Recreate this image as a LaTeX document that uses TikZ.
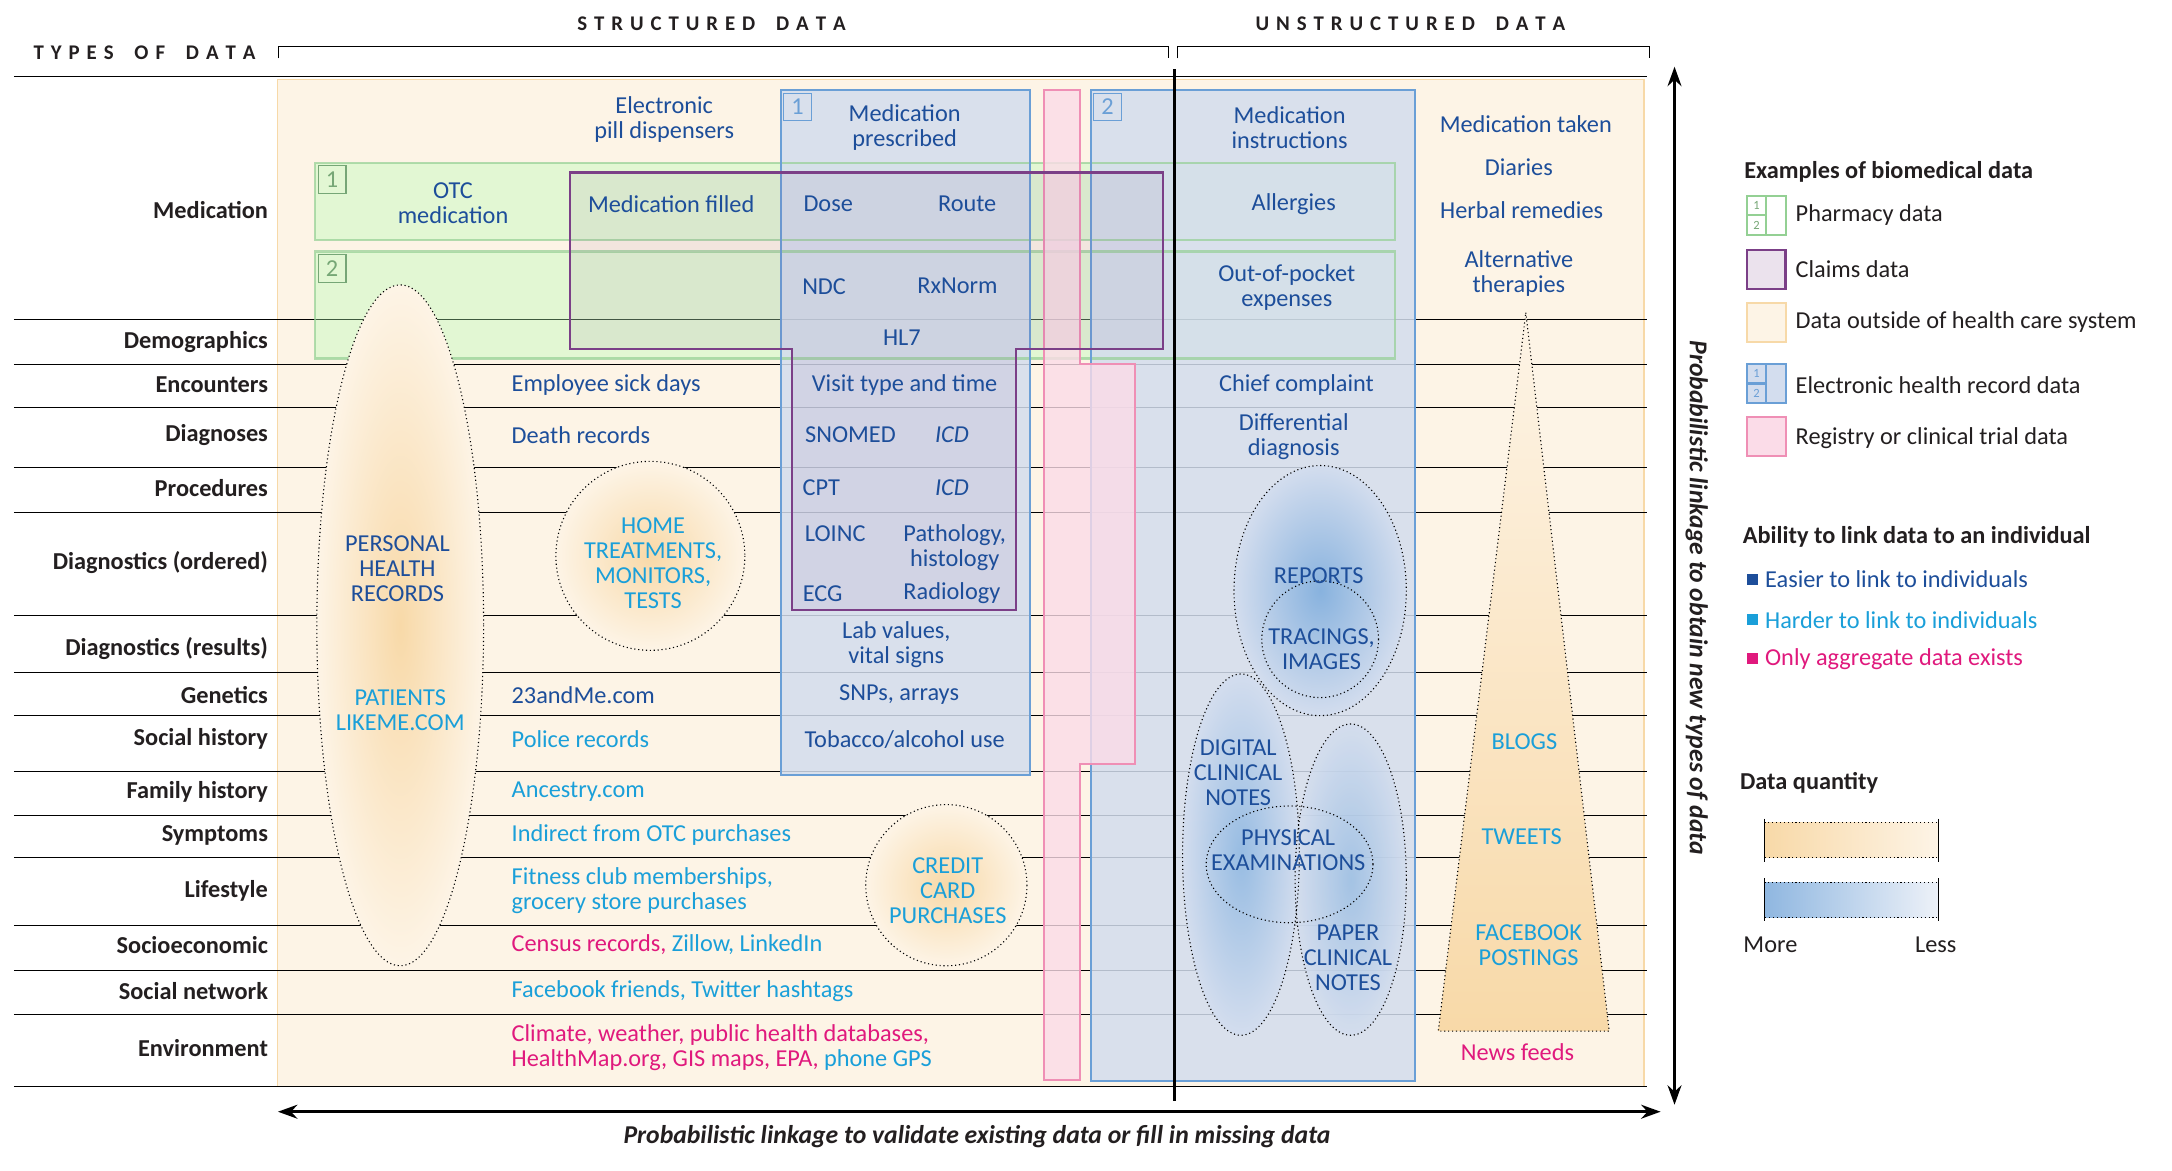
\documentclass[tikz,border=0pt]{standalone}
\usepackage{fontspec}
\setmainfont{Carlito}
\usetikzlibrary{arrows.meta}
\definecolor{dkb}{HTML}{1D4E9A}
\definecolor{ltb}{HTML}{1A9FD9}
\definecolor{mag}{HTML}{E0197D}
\definecolor{beige}{HTML}{FDF4E6}
\definecolor{beigeb}{HTML}{F7D9A8}
\definecolor{org}{HTML}{F8D9A8}
\definecolor{bluef}{HTML}{D3DDEE}
\definecolor{blueb}{HTML}{6A9FD6}
\definecolor{pinkb}{HTML}{EF8FB5}
\definecolor{pinkf}{HTML}{FBDCE8}
\definecolor{grnb}{HTML}{94D094}
\definecolor{purp}{HTML}{7B3F87}
\definecolor{grey}{HTML}{231F20}
\tikzset{
 x=1pt,y=-1pt,
 every node/.style={font=\fontsize{17.5}{18}\selectfont, align=center, inner sep=0pt},
 rowlab/.style={anchor=east, font=\fontsize{17.5}{18}\selectfont\bfseries, text=grey},
 db/.style={text=dkb},
 lb/.style={text=ltb},
 mg/.style={text=mag},
 lw/.style={anchor=west},
 dotell/.style={draw=black, dotted, thick},
 hdr/.style={font=\fontsize{15}{16}\selectfont\bfseries, text=grey},
 numbox/.style={draw=#1, thick, minimum size=22pt, text=#1},
}
\begin{document}
\begin{tikzpicture}
\useasboundingbox (0,0) rectangle (1563,842);
\fill[white] (0,0) rectangle (1563,842);
% background
\fill[beige] (200,57) rectangle (1183,782);
\draw[beigeb, thick] (200,57) rectangle (1183,782);
% headers
\node[hdr] (st) at (512,17) {S\,\,T\,\,R\,\,U\,\,C\,\,T\,\,U\,\,R\,\,E\,\,D\quad D\,\,A\,\,T\,\,A};
\node[hdr] (un) at (1015,17) {U\,\,N\,\,S\,\,T\,\,R\,\,U\,\,C\,\,T\,\,U\,\,R\,\,E\,\,D\quad D\,\,A\,\,T\,\,A};
\node[hdr] (ty) at (104,38) {T\,\,Y\,\,P\,\,E\,\,S\quad O\,\,F\quad D\,\,A\,\,T\,\,A};
\draw (200,42) -- (200,33) -- (841,33) -- (841,42);
\draw (847,42) -- (847,33) -- (1187,33) -- (1187,42);
% horizontal lines
\foreach \yy in {55,230,262,293,336,369,443,484,515,555,587,617,666,698,730,782}
 \draw[black, line width=0.6pt] (10,\yy) -- (1185,\yy);
% green boxes
\fill[green!30!white, opacity=0.35] (227,117) rectangle (1004,173);
\fill[green!30!white, opacity=0.35] (227,181) rectangle (1004,258);
% blue boxes
\fill[bluef, opacity=0.85] (562,65) rectangle (741,558);
\fill[bluef, opacity=0.85] (785,65) rectangle (1018,778);
\draw[grnb, line width=1.5pt, opacity=0.7] (227,117) rectangle (1004,173);
\draw[grnb, line width=1.5pt, opacity=0.7] (227,181) rectangle (1004,258);
\draw[blueb, line width=1.5pt] (562,65) rectangle (741,558);
\draw[blueb, line width=1.5pt] (785,65) rectangle (1018,778);
\node[numbox=grnb!80!black, minimum size=20pt] (g1) at (239,129) {1};
\node[numbox=grnb!80!black, minimum size=20pt] (g2) at (239,193) {2};
\node[numbox=blueb, minimum size=20pt] (b1) at (574,77) {1};
\node[numbox=blueb, minimum size=20pt] (b2) at (797,77) {2};
% pink
\fill[pinkf, opacity=0.8] (751,65) -- (777,65) -- (777,262) -- (817,262) -- (817,550) -- (777,550) -- (777,777) -- (751,777) -- cycle;
\draw[pinkb, line width=1.5pt] (751,65) -- (777,65) -- (777,262) -- (817,262) -- (817,550) -- (777,550) -- (777,777) -- (751,777) -- cycle;
% claims
\fill[purp, opacity=0.08] (410,124) -- (837,124) -- (837,251) -- (731,251) -- (731,439) -- (570,439) -- (570,251) -- (410,251) -- cycle;
\draw[purp, line width=1.8pt] (410,124) -- (837,124) -- (837,251) -- (731,251) -- (731,439) -- (570,439) -- (570,251) -- (410,251) -- cycle;
% ellipses left
\shade[inner color=org, outer color=beige] (288,450) ellipse (60 and 245);
\draw[dotell] (288,450) ellipse (60 and 245);
\shade[inner color=org, outer color=beige] (468,400) circle (68);
\draw[dotell] (468,400) circle (68);
\shade[inner color=org, outer color=beige] (681,637) circle (58);
\draw[dotell] (681,637) circle (58);
% ellipses right
\shade[inner color=blueb!80, outer color=bluef] (950,425) ellipse (62 and 90);
\draw[dotell] (950,425) ellipse (62 and 90);
\draw[dotell] (950,460) circle (42);
\shade[inner color=blueb!70, outer color=bluef] (893,615) ellipse (42 and 130);
\shade[inner color=blueb!70, outer color=bluef, opacity=0.8] (972,633) ellipse (40 and 112);
\draw[dotell] (893,615) ellipse (42 and 130);
\draw[dotell] (972,633) ellipse (40 and 112);
\draw[dotell] (928,622) ellipse (60 and 42);
% triangle
\shade[top color=beige, bottom color=org] (1098,225) -- (1158,742) -- (1035,742) -- cycle;
\draw[dotted, thick] (1098,225) -- (1158,742) -- (1035,742) -- cycle;
% black center line
\draw[line width=2pt] (845,50) -- (845,792);
% arrows
\draw[{Stealth[length=14pt,width=10pt]}-{Stealth[length=14pt,width=10pt]}, line width=2pt] (200,800) -- (1195,800);
\node[font=\fontsize{18.5}{19}\selectfont\bfseries\itshape, text=grey] (bx) at (703,818) {Probabilistic linkage to validate existing data or fill in missing data};
\draw[{Stealth[length=14pt,width=10pt]}-{Stealth[length=14pt,width=10pt]}, line width=2pt] (1205,48) -- (1205,795);
\node[font=\fontsize{18.5}{19}\selectfont\bfseries\itshape, text=grey, rotate=-90] (rx) at (1221,430) {Probabilistic linkage to obtain new types of data};
% row labels
\node[rowlab] at (193,151) {Medication};
\node[rowlab] at (193,246) {Demographics};
\node[rowlab] at (193,277) {Encounters};
\node[rowlab] at (193,313) {Diagnoses};
\node[rowlab] at (193,351) {Procedures};
\node[rowlab] at (193,405) {Diagnostics (ordered)};
\node[rowlab] at (193,467) {Diagnostics (results)};
\node[rowlab] at (193,500) {Genetics};
\node[rowlab] at (193,532) {Social history};
\node[rowlab] at (193,570) {Family history};
\node[rowlab] at (193,601) {Symptoms};
\node[rowlab] at (193,641) {Lifestyle};
\node[rowlab] at (193,680) {Socioeconomic};
\node[rowlab] at (193,713) {Social network};
\node[rowlab] at (193,754) {Environment};
% box 1 texts
\node[db] at (651,92) {Medication\\prescribed};
\node[db] at (596,147) {Dose};
\node[db] at (696,147) {Route};
\node[db] at (593,206) {NDC};
\node[db] at (689,206) {RxNorm};
\node[db] at (649,243) {HL7};
\node[db] at (651,277) {Visit type and time};
\node[db] at (612,313) {SNOMED};
\node[db] at (685,313) {\itshape ICD};
\node[db] at (591,351) {CPT};
\node[db] at (685,351) {\itshape ICD};
\node[db] at (601,384) {LOINC};
\node[db] at (687,394) {Pathology,\\histology};
\node[db] at (592,427) {ECG};
\node[db] at (685,427) {Radiology};
\node[db] at (645,464) {Lab values,\\vital signs};
\node[db] at (647,500) {SNPs, arrays};
\node[db] at (651,532) {Tobacco/alcohol use};
% box 2 texts
\node[db] at (928,92) {Medication\\instructions};
\node[db] at (931,147) {Allergies};
\node[db] at (926,207) {Out-of-pocket\\expenses};
\node[db] at (933,277) {Chief complaint};
\node[db] at (931,314) {Differential\\diagnosis};
\node[db] at (949,414) {REPORTS};
\node[db] at (951,467) {TRACINGS,\\IMAGES};
\node[db] at (891,556) {DIGITAL\\CLINICAL\\NOTES};
\node[db] at (927,612) {PHYSICAL\\EXAMINATIONS};
\node[db] at (970,689) {PAPER\\CLINICAL\\NOTES};
% right column
\node[db] at (1098,89) {Medication taken};
\node[db] at (1093,120) {Diaries};
\node[db] at (1095,151) {Herbal remedies};
\node[db] at (1093,197) {Alternative\\therapies};
\node[lb] at (1097,534) {BLOGS};
\node[lb] at (1095,602) {TWEETS};
\node[lb] at (1100,680) {FACEBOOK\\POSTINGS};
\node[mg] at (1092,757) {News feeds};
% left texts
\node[db] at (478,86) {Electronic\\pill dispensers};
\node[db] at (326,146) {OTC\\medication};
\node[db] at (483,147) {Medication filled};
\node[db] at (286,409) {PERSONAL\\HEALTH\\RECORDS};
\node[lb] at (470,405) {HOME\\TREATMENTS,\\MONITORS,\\TESTS};
\node[lb] at (288,511) {PATIENTS\\LIKEME.COM};
\node[lb] at (682,641) {CREDIT\\CARD\\PURCHASES};
\node[db,lw] at (368,277) {Employee sick days};
\node[db,lw] at (368,313) {Death records};
\node[db,lw] at (368,500) {23andMe.com};
\node[lb,lw] at (368,532) {Police records};
\node[lb,lw] at (368,570) {Ancestry.com};
\node[lb,lw] at (368,601) {Indirect from OTC purchases};
\node[lb,lw,align=left] at (368,641) {Fitness club memberships,\\grocery store purchases};
\node[lw] at (368,680) {\textcolor{mag}{Census records,} \textcolor{ltb}{Zillow, LinkedIn}};
\node[lb,lw] at (368,713) {Facebook friends, Twitter hashtags};
\node[lw,align=left] at (368,754) {\textcolor{mag}{Climate, weather, public health databases,}\\\textcolor{mag}{HealthMap.org, GIS maps, EPA,} \textcolor{ltb}{phone GPS}};
% legend
\node[rowlab,anchor=west] at (1255,124) {Examples of biomedical data};
\draw[grnb, line width=1.5pt] (1257,141) rectangle (1271,155);
\draw[grnb, line width=1.5pt] (1257,155) rectangle (1271,169);
\draw[grnb, line width=1.5pt] (1257,141) rectangle (1285,169);
\node[font=\fontsize{9}{9}\selectfont, text=grnb!80!black] at (1264,148) {1};
\node[font=\fontsize{9}{9}\selectfont, text=grnb!80!black] at (1264,162) {2};
\node[anchor=west, text=grey] at (1292,155) {Pharmacy data};
\fill[purp!15] (1257,180) rectangle (1285,208);
\draw[purp, line width=1.8pt] (1257,180) rectangle (1285,208);
\node[anchor=west, text=grey] at (1292,194) {Claims data};
\fill[beige] (1257,218) rectangle (1285,246);
\draw[beigeb, line width=1.5pt] (1257,218) rectangle (1285,246);
\node[anchor=west, text=grey] at (1292,232) {Data outside of health care system};
\fill[bluef] (1257,262) rectangle (1285,290);
\draw[blueb, line width=1.5pt] (1257,262) rectangle (1271,276);
\draw[blueb, line width=1.5pt] (1257,276) rectangle (1271,290);
\draw[blueb, line width=1.5pt] (1257,262) rectangle (1285,290);
\node[font=\fontsize{9}{9}\selectfont, text=blueb] at (1264,269) {1};
\node[font=\fontsize{9}{9}\selectfont, text=blueb] at (1264,283) {2};
\node[anchor=west, text=grey] at (1292,277) {Electronic health record data};
\fill[pinkf] (1257,300) rectangle (1285,328);
\draw[pinkb, line width=1.5pt] (1257,300) rectangle (1285,328);
\node[anchor=west, text=grey] at (1292,315) {Registry or clinical trial data};
\node[rowlab,anchor=west] at (1254,386) {Ability to link data to an individual};
\fill[dkb] (1257,413) rectangle (1265,421);
\node[db,anchor=west] at (1270,417) {Easier to link to individuals};
\fill[ltb] (1257,442) rectangle (1265,450);
\node[lb,anchor=west] at (1270,446) {Harder to link to individuals};
\fill[mag] (1257,470) rectangle (1265,478);
\node[mg,anchor=west] at (1270,474) {Only aggregate data exists};
\node[rowlab,anchor=west] at (1252,563) {Data quantity};
\shade[left color=org, right color=beige] (1270,592) rectangle (1395,617);
\draw[dotted, thick] (1270,592) rectangle (1395,617);
\draw[thick] (1270,589) -- (1270,620) (1395,589) -- (1395,620);
\shade[left color=blueb!75, right color=bluef!40] (1270,635) rectangle (1395,660);
\draw[dotted, thick] (1270,635) rectangle (1395,660);
\draw[thick] (1270,632) -- (1270,663) (1395,632) -- (1395,663);
\node[text=grey] at (1274,680) {More};
\node[text=grey] at (1393,680) {Less};
\end{tikzpicture}
\end{document}
